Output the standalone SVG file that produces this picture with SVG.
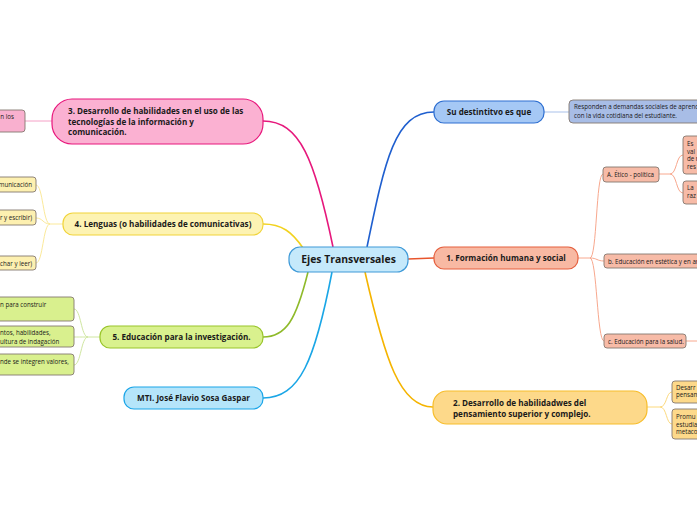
<svg xmlns="http://www.w3.org/2000/svg" width="697" height="520" viewBox="0 0 697 520">
<style>
text{font-family:"Open Sans","Noto Sans","DejaVu Sans",sans-serif;fill:#1a1a1a}
.m{font-size:8.1px;font-weight:bold}
.c{font-size:10.4px;font-weight:bold}
.s{font-size:6.2px}
.mc{fill:none;stroke-width:1.6}
.sc{fill:none;stroke-width:1}
.sb{stroke:#857870;stroke-width:0.9}
</style>
<rect width="697" height="520" fill="#ffffff"/>
<g id="connectors">
<path class="mc" stroke="#1f5fcf" d="M367,247 C385,160 395,112 434,112"/>
<path class="mc" stroke="#e6187c" d="M333,247 C315,160 300,121 263,121"/>
<path class="mc" stroke="#f2d21e" d="M303,248 C292,232 282,224 263,224"/>
<path class="mc" stroke="#8fba2a" d="M308,272 C296,320 286,337 263,337"/>
<path class="mc" stroke="#1aa6e6" d="M332,272 C315,360 300,398 263,398"/>
<path class="mc" stroke="#f5b400" d="M365,272 C385,360 400,407 433,407"/>
<path class="mc" stroke="#e8552c" d="M408,259 L434,258"/>
<path class="sc" stroke="#a9c1ea" d="M544,112 L569,112"/>
<path class="sc" stroke="#f8a88e" d="M578,258 L590,258 C597,258 596,174 603,174 M590,258 C597,258 597,261 604,261 M590,258 C597,258 597,341 604,341"/>
<path class="sc" stroke="#f8a88e" d="M686,341 L697,341"/>
<path class="sc" stroke="#f8a88e" d="M659,174 L670,174 C677,174 676,155 683,155 M670,174 C677,174 676,193 683,193"/>
<path class="sc" stroke="#fcd97d" d="M647,407 L660,407 C667,407 666,392 672,392 M660,407 C667,407 666,424 672,424"/>
<path class="sc" stroke="#f5a0c6" d="M52,121 L25,121"/>
<path class="sc" stroke="#fbe99a" d="M63,224 L50,224 C43,224 43,185 36,185 M50,224 C43,224 43,218 36,218 M50,224 C43,224 43,263 36,263"/>
<path class="sc" stroke="#cfe6a0" d="M100,337 L88,337 C81,337 81,309 74,309 M88,337 C81,337 81,337 74,337 M88,337 C81,337 81,365 74,365"/>
</g>
<g id="center">
<rect x="289" y="247" width="119" height="25" rx="11" fill="#c5e9fb" stroke="#3f9ad8" stroke-width="1.2"/>
<text class="c" x="348.5" y="263.3" text-anchor="middle">Ejes Transversales</text>
</g>
<g id="n-destintivo">
<rect x="434" y="101" width="110" height="22" rx="10" fill="#a5c8f5" stroke="#2e6fd1" stroke-width="1.2"/>
<text class="m" x="489" y="115" text-anchor="middle">Su destintitvo es que</text>
</g>
<g id="n-responden">
<rect x="569" y="100" width="140" height="23" rx="4" fill="#a8bde6" class="sb"/>
<text class="s" x="574" y="109">Responden a demandas sociales  de aprendi</text>
<text class="s" x="574" y="118">con la vida cotidiana del estudiante.</text>
</g>
<g id="n-formacion">
<rect x="434" y="247" width="144" height="22" rx="10" fill="#f8b9a3" stroke="#e5603f" stroke-width="1.2"/>
<text class="m" x="506" y="261" text-anchor="middle">1. Formación humana y social</text>
</g>
<g id="n-etico">
<rect x="603" y="167" width="56" height="15" rx="3" fill="#f7bba7" class="sb"/>
<text class="s" x="607" y="177">A. Ético - política</text>
</g>
<g id="n-es">
<rect x="683" y="136" width="30" height="38" rx="3" fill="#f7bba7" class="sb"/>
<text class="s" x="687" y="146">Es</text>
<text class="s" x="687" y="153.5">val</text>
<text class="s" x="687" y="161">de r</text>
<text class="s" x="687" y="168.5">res</text>
</g>
<g id="n-la">
<rect x="683" y="181" width="30" height="23" rx="3" fill="#f7bba7" class="sb"/>
<text class="s" x="687" y="190">La</text>
<text class="s" x="687" y="198">raz</text>
</g>
<g id="n-estetica">
<rect x="604" y="254" width="110" height="14" rx="3" fill="#f7bba7" class="sb"/>
<text class="s" x="608" y="263.5">b. Educación en estética y en art</text>
</g>
<g id="n-salud">
<rect x="604" y="334" width="82" height="14" rx="3" fill="#f7bba7" class="sb"/>
<text class="s" x="608" y="343.5">c. Educación para la salud.</text>
</g>
<g id="n-pensamiento">
<rect x="433" y="391" width="214" height="33" rx="14" fill="#fdd98a" stroke="#f7bd2a" stroke-width="1.2"/>
<text class="m" x="453" y="406">2. Desarrollo de habilidadwes del</text>
<text class="m" x="453" y="416.5">pensamiento superior y complejo.</text>
</g>
<g id="n-desarr">
<rect x="672" y="381" width="40" height="22" rx="3" fill="#fdd98a" class="sb"/>
<text class="s" x="676" y="389.5">Desarr</text>
<text class="s" x="676" y="397">pensam</text>
</g>
<g id="n-promu">
<rect x="672" y="409" width="40" height="30" rx="3" fill="#fdd98a" class="sb"/>
<text class="s" x="676" y="419">Promu</text>
<text class="s" x="676" y="426.5">estudia</text>
<text class="s" x="676" y="434">metaco</text>
</g>
<g id="n-tecnologias">
<rect x="52" y="99" width="211" height="45" rx="20" fill="#fbb1d2" stroke="#e8177c" stroke-width="1.2"/>
<text class="m" x="68" y="114">3. Desarrollo de habilidades en el uso de las</text>
<text class="m" x="68" y="124.5">tecnologías de la información y</text>
<text class="m" x="68" y="135">comunicación.</text>
</g>
<g id="n-tec-child">
<rect x="-20" y="110" width="45" height="22" rx="3" fill="#f9b0cf" class="sb"/>
<text class="s" x="14" y="119" text-anchor="end">n los</text>
</g>
<g id="n-lenguas">
<rect x="63" y="213" width="200" height="22" rx="10" fill="#fdf3b3" stroke="#f1d43b" stroke-width="1.2"/>
<text class="m" x="163" y="227" text-anchor="middle">4. Lenguas (o habilidades de comunicativas)</text>
</g>
<g id="n-len1">
<rect x="-20" y="177" width="56" height="15" rx="3" fill="#fdf0b0" class="sb"/>
<text class="s" x="32" y="187" text-anchor="end">municación</text>
</g>
<g id="n-len2">
<rect x="-20" y="210" width="56" height="15" rx="3" fill="#fdf0b0" class="sb"/>
<text class="s" x="32" y="220" text-anchor="end">r y escribir)</text>
</g>
<g id="n-len3">
<rect x="-20" y="256" width="56" height="14" rx="3" fill="#fdf0b0" class="sb"/>
<text class="s" x="32" y="265.5" text-anchor="end">char y leer)</text>
</g>
<g id="n-investigacion">
<rect x="100" y="326" width="163" height="22" rx="10" fill="#d9f18e" stroke="#99c52a" stroke-width="1.2"/>
<text class="m" x="181.5" y="340" text-anchor="middle">5. Educación para la investigación.</text>
</g>
<g id="n-inv1">
<rect x="-20" y="297" width="94" height="24" rx="3" fill="#d9f08e" class="sb"/>
<text class="s" x="0" y="306.5">n para construir</text>
</g>
<g id="n-inv2">
<rect x="-20" y="326" width="94" height="21" rx="3" fill="#d9f08e" class="sb"/>
<text class="s" x="0" y="335">ntos, habilidades,</text>
<text class="s" x="0" y="344">ultura de indagación</text>
</g>
<g id="n-inv3">
<rect x="-20" y="354" width="94" height="21" rx="3" fill="#d9f08e" class="sb"/>
<text class="s" x="0" y="363.5">nde se integren valores,</text>
</g>
<g id="n-mti">
<rect x="124" y="387" width="139" height="22" rx="10" fill="#b5e5fa" stroke="#1aa5e8" stroke-width="1.2"/>
<text class="m" x="193.5" y="401" text-anchor="middle">MTI. José Flavio Sosa Gaspar</text>
</g>
</svg>
